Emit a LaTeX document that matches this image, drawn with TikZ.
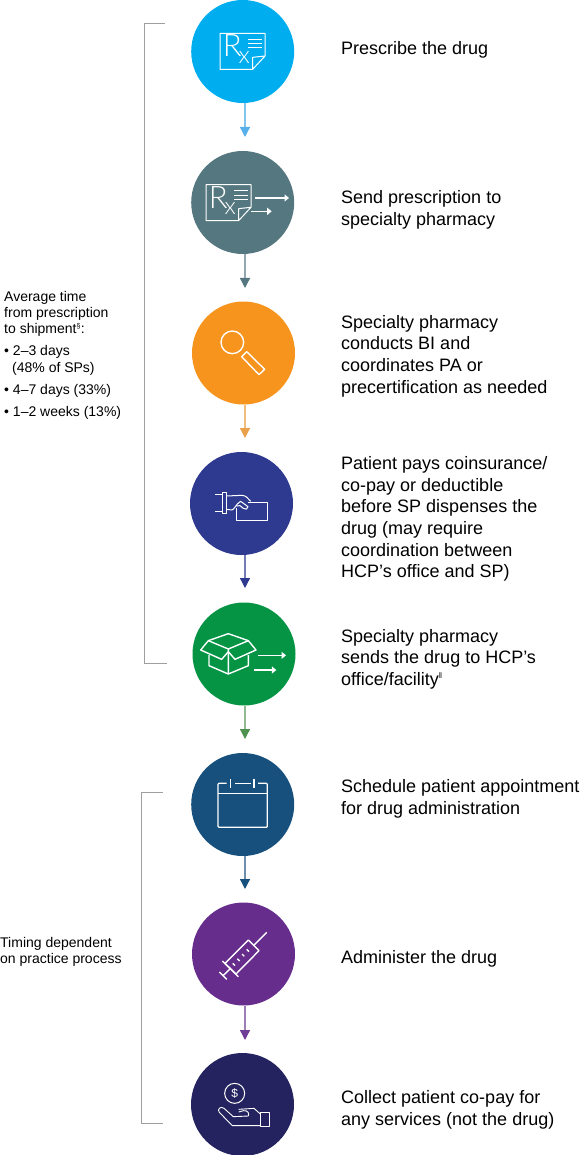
\documentclass[tikz,border=0pt]{standalone}
\usepackage{fontspec}
\setmainfont{Liberation Sans}
\newfontfamily\iconfont{Lato Light}
\usetikzlibrary{arrows.meta}
\definecolor{cprescribe}{HTML}{00AEEF}
\definecolor{csend}{HTML}{557780}
\definecolor{cconduct}{HTML}{F7941D}
\definecolor{cpay}{HTML}{2E3A8F}
\definecolor{cship}{HTML}{059444}
\definecolor{csched}{HTML}{17507C}
\definecolor{cadmin}{HTML}{662D8C}
\definecolor{ccollect}{HTML}{25235F}
\definecolor{lprescribe}{HTML}{82C6F0}
\definecolor{hprescribe}{HTML}{58B0EA}
\definecolor{lsend}{HTML}{93A8B2}
\definecolor{lconduct}{HTML}{F1BC80}
\definecolor{hconduct}{HTML}{E9A04A}
\definecolor{lpay}{HTML}{757CB4}
\definecolor{lship}{HTML}{8FBA92}
\definecolor{hship}{HTML}{4E9150}
\definecolor{lsched}{HTML}{6E8FAB}
\definecolor{ladmin}{HTML}{9C7DB6}
\definecolor{hadmin}{HTML}{6E3E96}
\tikzset{
    stepdot/.style={circle,inner sep=0pt,minimum size=103pt},
    steptext/.style={anchor=west,align=left,font=\fontsize{18}{21.6}\selectfont,inner sep=0pt},
    sidetext/.style={anchor=west,align=left,font=\fontsize{14}{16.3}\selectfont,inner sep=0pt},
    bracketline/.style={draw=gray!75,line width=0.9pt},
    iconline/.style={draw=white,line width=1.4pt,line join=round},
    iconarrow/.style={draw=white,line width=1.2pt,-{Triangle[length=4.5pt,width=7pt]}},
}
\newcommand{\flowarrow}[4]{%
    \draw[draw=#3,line width=1.3pt,-{Triangle[length=10pt,width=10pt,color=#4]}] (#2 |- #1.south) -- (#2);
}
\newcommand{\rxnote}{%
    \draw[iconline,line width=1pt] (218,208) -- (120,208) -- (120,100) -- (255,100) -- (255,168) -- (218,208) -- (218,172) -- (255,168);
    \draw[iconline,line width=0.8pt] (205,118) -- (245,118) (205,131) -- (245,131) (205,143) -- (245,143);
    \node[text=white,inner sep=0pt,anchor=north west,font=\iconfont\fontsize{31}{31}\selectfont] at (128,104) {R\kern-3pt\raisebox{-6.5pt}{\fontsize{24}{24}\selectfont x}};
}
\begin{document}
\begin{tikzpicture}[x=1pt,y=-1pt]
    \useasboundingbox (0,0) rectangle (579,1155);

    % circles
    \foreach \name/\x/\y/\col in {prescribe/242.7/51.5/cprescribe,send/242.7/202.5/csend,conduct/243.5/353/cconduct,pay/241.5/503.5/cpay,ship/244/654/cship,sched/242.7/804.5/csched,admin/243.5/954/cadmin,collect/242.5/1104.5/ccollect} {
        \node[stepdot,fill=\col] (\name) at (\x,\y) {};
    }

    % arrows
    \coordinate (enda) at (245,137);
    \coordinate (endb) at (245,288);
    \coordinate (endc) at (245,438);
    \coordinate (endd) at (245,588);
    \coordinate (ende) at (245,739);
    \coordinate (endf) at (245,889);
    \coordinate (endg) at (245,1040);
    \flowarrow{prescribe}{enda}{lprescribe}{hprescribe}
    \flowarrow{send}{endb}{lsend}{csend}
    \flowarrow{conduct}{endc}{lconduct}{hconduct}
    \flowarrow{pay}{endd}{lpay}{cpay}
    \flowarrow{ship}{ende}{lship}{hship}
    \flowarrow{sched}{endf}{lsched}{csched}
    \flowarrow{admin}{endg}{ladmin}{hadmin}

    % brackets
    \draw[bracketline] (165,23) -- (144,23) -- (144,663) -- (167,663);
    \draw[bracketline] (163,792) -- (141,792) -- (141,1123) -- (163,1123);

    % labels on the right
    \node[steptext] (tprescribe) at (341,49.5) {Prescribe the drug};
    \node[steptext] (tsend) at (341,210) {Send prescription to\\specialty pharmacy};
    \node[steptext] (tconduct) at (341,356) {Specialty pharmacy\\conducts BI and\\coordinates PA or\\precertification as needed};
    \node[steptext] (tpay) at (341,519) {Patient pays coinsurance/\\co-pay or deductible\\before SP dispenses the\\drug (may require\\coordination between\\HCP’s office and SP)};
    \node[steptext] (tship) at (341,659) {Specialty pharmacy\\sends the drug to HCP’s\\office/facility\textsuperscript{\fontsize{8}{8}\selectfont‖}};
    \node[steptext] (tsched) at (341,799) {Schedule patient appointment\\for drug administration};
    \node[steptext] (tadmin) at (341,958.5) {Administer the drug};
    \node[steptext] (tcollect) at (341,1110) {Collect patient co-pay for\\any services (not the drug)};

    % labels on the left
    \node[sidetext] (tavg) at (4,313.7) {Average time\\from prescription\\to shipment\textsuperscript{\fontsize{7}{7}\selectfont§}:};
    \node[sidetext] (tdays) at (4,360.5) {• 2–3 days\\\hspace{8pt}(48\% of SPs)};
    \node[sidetext] (tweek) at (4,390.5) {• 4–7 days (33\%)};
    \node[sidetext] (tweeks) at (4,412.5) {• 1–2 weeks (13\%)};
    \node[sidetext] (ttiming) at (0,951.7) {Timing dependent\\on practice process};

    % icons
    \begin{scope}[shift={(180,0)},scale=1/3]
        \rxnote
    \end{scope}
    \begin{scope}[shift={(166,151.3)},scale=1/3]
        \rxnote
    \end{scope}
    \begin{scope}[shift={(180,0)},scale=1/3]
        \draw[iconarrow] (224,594) -- (327,594);
        \draw[iconarrow] (214,634) -- (275,634);
    \end{scope}
    \begin{scope}[shift={(180,300)},scale=1/3]
        \draw[iconline] (157,127) circle (34);
        \draw[iconline] (185,170) -- (200,155) -- (254,208) -- (237,224) -- cycle;
        % hand and card
        \draw[iconline,line width=1pt] (205,606) -- (262,606) -- (262,661) -- (168,661) -- (168,625);
        \draw[iconline,line width=1pt] (128,578) rectangle (140,640);
        \draw[iconline,line width=1pt] (106,584) -- (128,584) (106,634) -- (128,634);
        \draw[iconline,line width=1pt] (140,588) -- (185,586) .. controls (198,586) and (205,596) .. (212,604);
        \draw[iconline,line width=1pt] (140,628) -- (155,630) .. controls (162,630) and (165,618) .. (172,612) -- (182,604) -- (204,620) .. controls (204,628) and (196,630) .. (190,625) -- (180,617) -- (168,618);
    \end{scope}
    \begin{scope}[shift={(180,600)},scale=1/3]
        % box
        \draw[iconline] (62,150) -- (125,178) -- (145,155) -- (165,178) -- (228,150) -- (205,122) -- (145,101) -- (85,122) -- cycle;
        \draw[iconline] (85,122) -- (145,147) -- (205,122) (145,147) -- (145,222);
        \draw[iconline] (87,165) -- (87,197) -- (145,222) -- (205,197) -- (205,165);
        \draw[iconarrow] (234,166) -- (318,166);
        \draw[iconarrow] (222,210) -- (289,210);
        % calendar
        \draw[iconline,line width=1.2pt,rounded corners=1pt] (140,550) -- (114,550) -- (114,682) -- (262,682) -- (262,550) -- (234,550);
        \draw[iconline,line width=1.2pt] (165,550) -- (212,550) (114,580) -- (262,580);
        \draw[iconline,line width=1.2pt] (152,538) -- (152,563) (222,538) -- (222,563);
    \end{scope}
    \begin{scope}[shift={(180,900)},scale=1/3]
        % syringe
        \draw[iconline] (260,97) -- (222,135);
        \draw[iconline] (205,120) -- (237,152) -- (168,222) -- (135,190) -- cycle;
        \draw[iconline] (127,183) -- (175,230);
        \draw[iconline] (152,205) -- (128,228) (118,216) -- (140,238);
        \draw[iconline] (200,148) -- (207,155) (186,162) -- (193,169) (172,176) -- (179,183) (158,190) -- (165,197);
        % coin and hand
        \draw[iconline,line width=1pt] (164,580) circle (30);
        \node[text=white,inner sep=0pt,font=\fontsize{12}{12}\selectfont] (dollar) at (164,580) {\$};
        \draw[iconline,line width=0.9pt] (241,638) rectangle (268,680);
        \draw[iconline,line width=0.9pt] (241,677) -- (157,677) -- (118,637) .. controls (110,628) and (122,617) .. (132,625) -- (160,650) -- (205,648);
        \draw[iconline,line width=0.9pt] (205,648) .. controls (208,642) and (205,630) .. (190,632) -- (176,636) (176,628) -- (222,625) -- (241,642);
    \end{scope}
\end{tikzpicture}
\end{document}
